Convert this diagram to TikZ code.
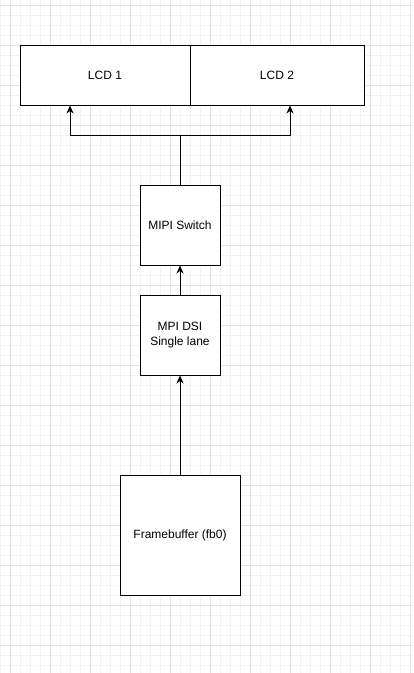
\documentclass[tikz,border=0pt]{standalone}
\usepackage{fontspec}
\setmainfont{Liberation Sans}
\usetikzlibrary{arrows.meta}
\definecolor{gridminor}{HTML}{F2F2F2}
\definecolor{gridmajor}{HTML}{E2E2E2}
\begin{document}
\begin{tikzpicture}[x=1pt,y=-1pt,
  box/.style={draw, line width=1pt, fill=white, inner sep=0pt, align=center,
    font=\fontsize{12}{14.5}\selectfont},
  wire/.style={line width=1pt},
  conn/.style={line width=1pt, -{Stealth[length=8pt,width=7pt,inset=2.5pt]}},
  minorline/.style={gridminor, line width=0.8pt},
  majorline/.style={gridmajor, line width=0.8pt}]
\useasboundingbox (0,0) rectangle (413,673);
% grid
\foreach \x in {0,10,...,410} \draw[minorline] (\x,0) -- (\x,673);
\foreach \y in {5,15,...,665} \draw[minorline] (0,\y) -- (413,\y);
\foreach \x in {10,50,...,410} \draw[majorline] (\x,0) -- (\x,673);
\foreach \y in {5,45,...,665} \draw[majorline] (0,\y) -- (413,\y);
% nodes
\node[box, minimum width=170pt, minimum height=60pt] (lcd1) at (105,75) {LCD 1};
\node[box, minimum width=174pt, minimum height=60pt] (lcd2) at (277,75) {LCD 2};
\node[box, minimum width=80pt, minimum height=80pt] (sw) at (180,225) {MIPI Switch};
\node[box, minimum width=80pt, minimum height=80pt] (dsi) at (180,335) {MPI DSI\\Single lane};
\node[box, minimum width=120pt, minimum height=120pt] (fb) at (180,535) {Framebuffer (fb0)};
\coordinate (j) at (180,135);
% connectors
\draw[conn] (fb.north) -- (dsi.south);
\draw[conn] (dsi.north) -- (sw.south);
\draw[wire] (sw.north) -- (j);
\draw[conn] (j) -| ([xshift=-35pt]lcd1.south);
\draw[conn] (j) -| ([xshift=13pt]lcd2.south);
\end{tikzpicture}
\end{document}
